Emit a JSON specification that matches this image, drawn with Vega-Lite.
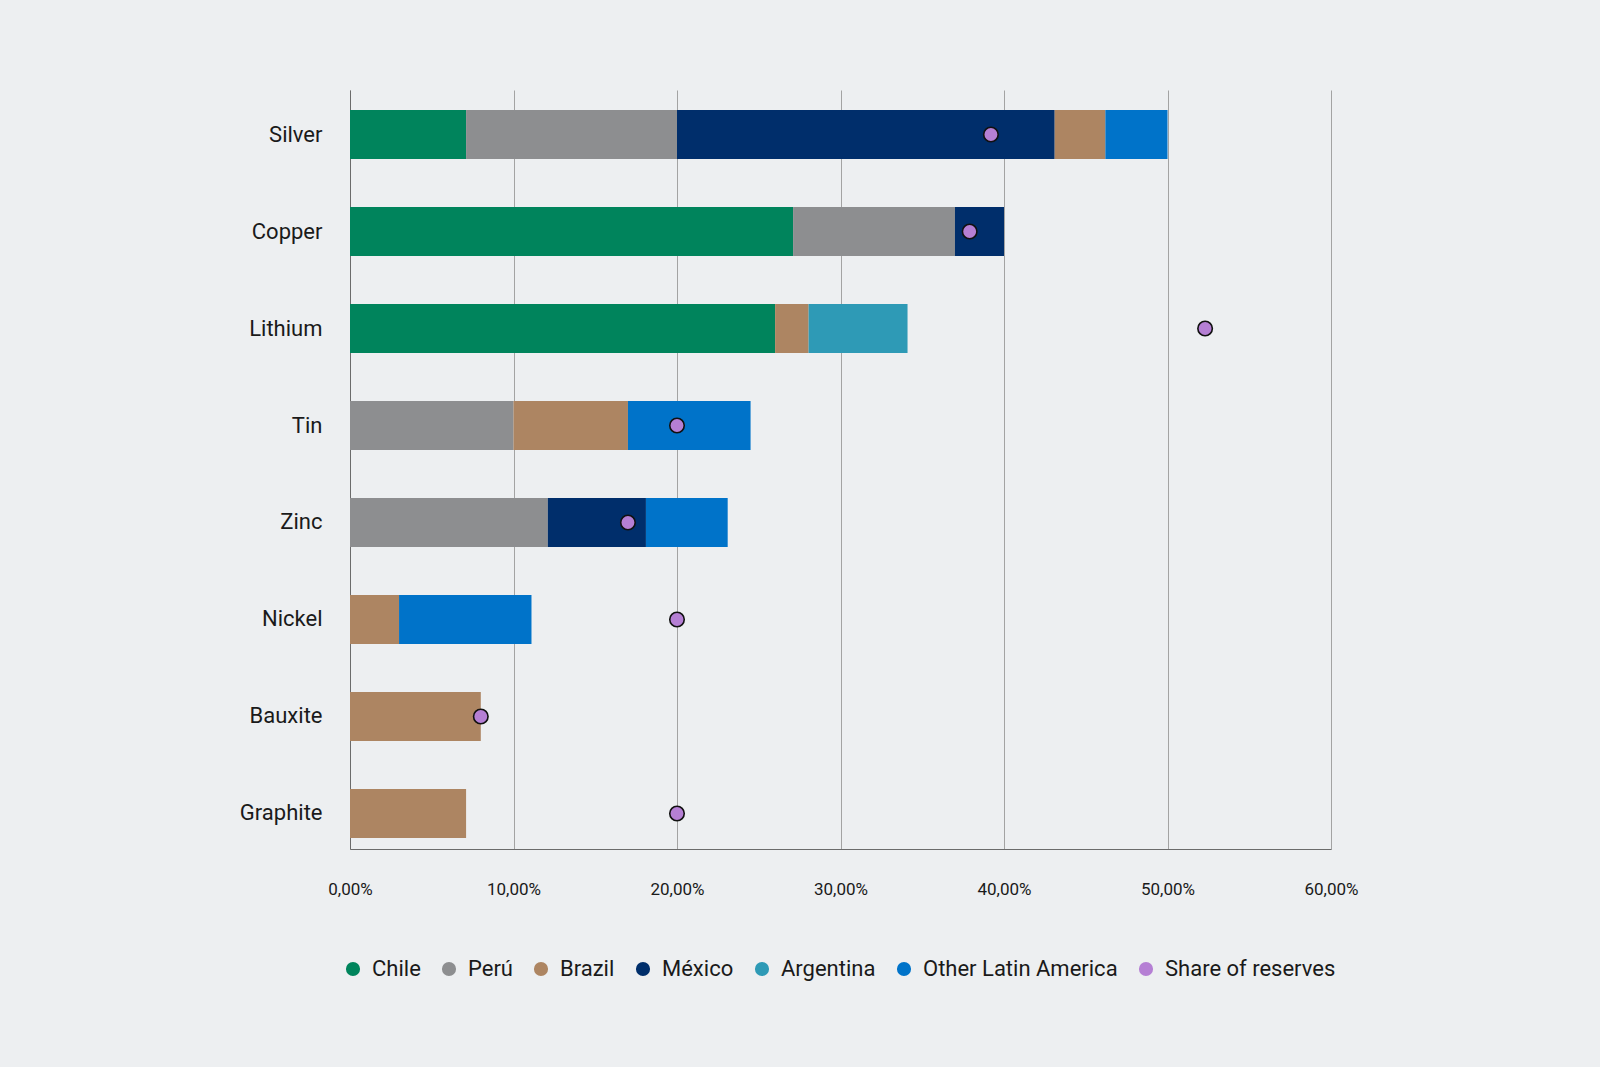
{
  "$schema": "https://vega.github.io/schema/vega-lite/v6.json",
  "autosize": "none",
  "width": 981,
  "height": 759,
  "padding": {"left": 350, "top": 90, "right": 269, "bottom": 218},
  "background": "#edeff1",
  "datasets": {
    "bars": [
      {"mineral": "Silver", "country": "Chile", "value": 7.1},
      {"mineral": "Silver", "country": "Perú", "value": 12.9},
      {"mineral": "Silver", "country": "México", "value": 23.1},
      {"mineral": "Silver", "country": "Brazil", "value": 3.1},
      {"mineral": "Silver", "country": "Other Latin America", "value": 3.8},
      {"mineral": "Copper", "country": "Chile", "value": 27.1},
      {"mineral": "Copper", "country": "Perú", "value": 9.9},
      {"mineral": "Copper", "country": "México", "value": 3.0},
      {"mineral": "Lithium", "country": "Chile", "value": 26.0},
      {"mineral": "Lithium", "country": "Brazil", "value": 2.05},
      {"mineral": "Lithium", "country": "Argentina", "value": 6.05},
      {"mineral": "Tin", "country": "Perú", "value": 10.0},
      {"mineral": "Tin", "country": "Brazil", "value": 7.0},
      {"mineral": "Tin", "country": "Other Latin America", "value": 7.5},
      {"mineral": "Zinc", "country": "Perú", "value": 12.1},
      {"mineral": "Zinc", "country": "México", "value": 6.0},
      {"mineral": "Zinc", "country": "Other Latin America", "value": 5.0},
      {"mineral": "Nickel", "country": "Brazil", "value": 3.0},
      {"mineral": "Nickel", "country": "Other Latin America", "value": 8.1},
      {"mineral": "Bauxite", "country": "Brazil", "value": 8.0},
      {"mineral": "Graphite", "country": "Brazil", "value": 7.1}
    ],
    "countryOrder": [
      {"country": "Chile", "rank": 1},
      {"country": "Perú", "rank": 2},
      {"country": "México", "rank": 3},
      {"country": "Brazil", "rank": 4},
      {"country": "Argentina", "rank": 5},
      {"country": "Other Latin America", "rank": 6}
    ],
    "reserves": [
      {"mineral": "Silver", "reserve": 39.2},
      {"mineral": "Copper", "reserve": 37.9},
      {"mineral": "Lithium", "reserve": 52.3},
      {"mineral": "Tin", "reserve": 20.0},
      {"mineral": "Zinc", "reserve": 17.0},
      {"mineral": "Nickel", "reserve": 20.0},
      {"mineral": "Bauxite", "reserve": 8.0},
      {"mineral": "Graphite", "reserve": 20.0}
    ]
  },
  "layer": [
    {
      "data": {"name": "bars"},
      "transform": [
        {"lookup": "country", "from": {"data": {"name": "countryOrder"}, "key": "country", "fields": ["rank"]}}
      ],
      "mark": {"type": "bar"},
      "encoding": {
        "y": {"field": "mineral", "type": "nominal", "sort": ["Silver", "Copper", "Lithium", "Tin", "Zinc", "Nickel", "Bauxite", "Graphite"],
              "scale": {"paddingInner": 0.495, "paddingOuter": 0.16, "align": 0.645}, "title": null},
        "x": {"field": "value", "type": "quantitative", "stack": "zero", "title": null,
              "scale": {"domain": [0, 60], "nice": false},
              "axis": {"values": [0, 10, 20, 30, 40, 50, 60]}},
        "order": {"field": "rank", "type": "quantitative", "sort": "ascending"},
        "color": {"field": "country", "type": "nominal",
                  "scale": {"domain": ["Chile", "Perú", "Brazil", "México", "Argentina", "Other Latin America", "Share of reserves"],
                            "range": ["#00845c", "#8d8e90", "#ad8562", "#002e6b", "#2e9ab6", "#0073c9", "#b57fd4"]},
                  "legend": {"orient": "none", "legendX": -8, "legendY": 868, "direction": "horizontal", "columns": 7,
                             "title": null, "symbolType": "circle", "symbolSize": 200, "symbolStrokeWidth": 0,
                             "labelFontSize": 22, "labelFont": "Roboto", "labelColor": "#1a1a1a", "labelLimit": 400,
                             "columnPadding": 17, "labelOffset": 8, "padding": 0}}
      }
    },
    {
      "data": {"name": "reserves"},
      "mark": {"type": "point", "filled": true, "shape": "circle", "size": 210, "stroke": "#111111", "strokeWidth": 1.6, "opacity": 1},
      "encoding": {
        "y": {"field": "mineral", "type": "nominal", "sort": ["Silver", "Copper", "Lithium", "Tin", "Zinc", "Nickel", "Bauxite", "Graphite"]},
        "x": {"field": "reserve", "type": "quantitative"},
        "color": {"datum": "Share of reserves", "type": "nominal"}
      }
    }
  ],
  "config": {
    "view": {"stroke": null},
    "axisX": {"grid": true, "gridColor": "#a3a3a3", "gridWidth": 1, "domain": true, "domainColor": "#6b6b6b", "domainWidth": 1,
              "ticks": false,
              "labelExpr": "replace(format(datum.value, '.2f'), '.', ',') + '%'",
              "labelFont": "Roboto", "labelFontSize": 17, "labelColor": "#1a1a1a", "labelPadding": 32, "labelFlush": false},
    "axisY": {"grid": false, "domain": true, "domainColor": "#6b6b6b", "domainWidth": 1, "ticks": false,
              "labelFont": "Roboto", "labelFontSize": 22, "labelColor": "#1a1a1a", "labelPadding": 28}
  }
}
